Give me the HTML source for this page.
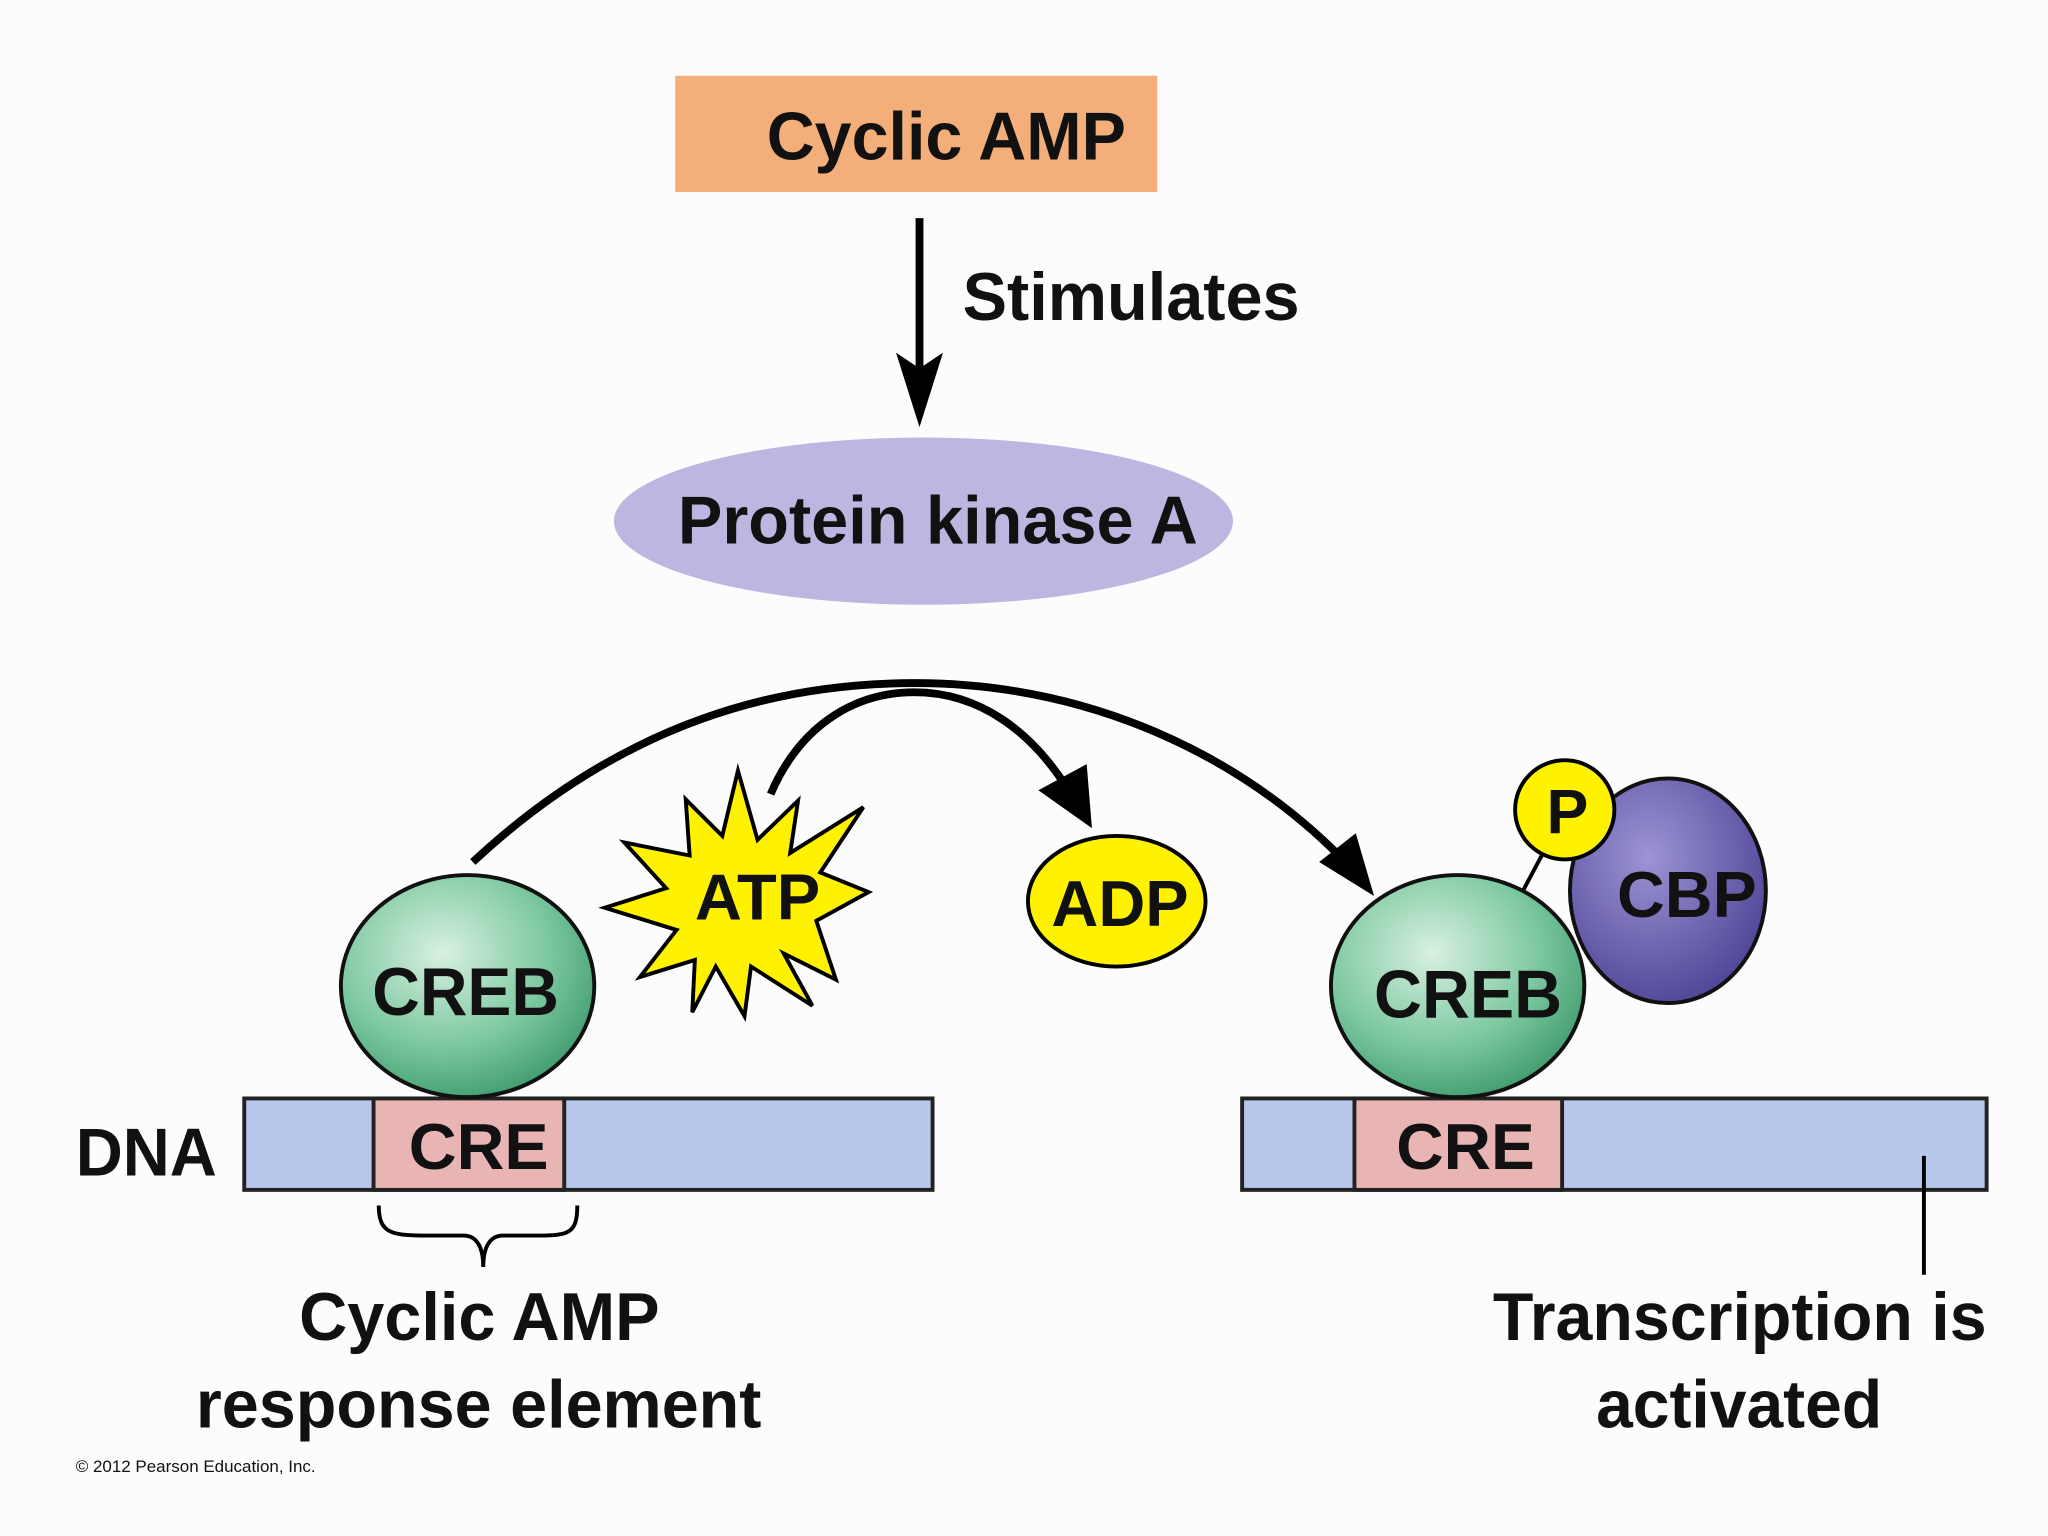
<!DOCTYPE html>
<html><head><meta charset="utf-8"><style>
html,body{margin:0;padding:0;background:#fff;}
svg{display:block;}
text{font-family:"Liberation Sans",sans-serif;font-weight:bold;fill:#111;}
</style></head><body>
<svg width="2048" height="1536" viewBox="0 0 1568 1176" xmlns="http://www.w3.org/2000/svg">
<defs>
<radialGradient id="g" cx="40%" cy="35%" r="70%"><stop offset="0" stop-color="#d8f0e0"/><stop offset="0.6" stop-color="#7cc8a0"/><stop offset="1" stop-color="#3f9a6e"/></radialGradient>
<radialGradient id="pu" cx="40%" cy="35%" r="70%"><stop offset="0" stop-color="#9c94d4"/><stop offset="1" stop-color="#4e4496"/></radialGradient>
</defs>
<rect width="1568" height="1176" fill="#fdfcfd"/>
<rect x="517" y="58" width="369" height="89" fill="#f4ae7a"/>
<text x="587" y="122" font-size="52" textLength="275" lengthAdjust="spacingAndGlyphs">Cyclic AMP</text>
<line x1="704" y1="167" x2="704" y2="290" stroke="#000" stroke-width="6"/>
<polygon points="686,270 704,327 722,270 704,282" fill="#000"/>
<text x="737" y="245" font-size="52" textLength="258" lengthAdjust="spacingAndGlyphs">Stimulates</text>
<ellipse cx="707" cy="399" rx="237" ry="64" fill="#bcb6e0"/>
<text x="519" y="416" font-size="52" textLength="398" lengthAdjust="spacingAndGlyphs">Protein kinase A</text>
<path d="M362,660 C480,550 600,523 700,523 C830,523 950,575 1035,665" fill="none" stroke="#000" stroke-width="6"/>
<polygon points="1010,660 1052,686 1038,638" fill="#000"/>
<path d="M590,608 C615,550 660,530 700,530 C750,530 790,560 818,605" fill="none" stroke="#000" stroke-width="6"/>
<polygon points="795,605 836,634 832,585" fill="#000"/>
<polygon points="565,590 580,643 611,613 605,653 661,618 628,668 665,683 625,705 640,750 600,730 622,770 575,740 570,778 548,740 530,775 532,735 490,748 518,712 463,695 510,680 478,645 528,655 525,612 553,640" fill="#fff200" stroke="#000" stroke-width="3"/>
<text x="532" y="704" font-size="50" textLength="96" lengthAdjust="spacingAndGlyphs">ATP</text>
<ellipse cx="855" cy="690" rx="68" ry="50" fill="#fff200" stroke="#000" stroke-width="3"/>
<text x="805" y="709" font-size="50" textLength="105" lengthAdjust="spacingAndGlyphs">ADP</text>
<rect x="187" y="841" width="527" height="70" fill="#b8c8ec" stroke="#222" stroke-width="3"/>
<rect x="286" y="841" width="146" height="70" fill="#e8b4b4" stroke="#222" stroke-width="3"/>
<ellipse cx="358" cy="755" rx="97" ry="85" fill="url(#g)" stroke="#111" stroke-width="3"/>
<text x="285" y="777" font-size="52" textLength="143" lengthAdjust="spacingAndGlyphs">CREB</text>
<text x="313" y="895" font-size="50" textLength="107" lengthAdjust="spacingAndGlyphs">CRE</text>
<text x="58" y="900" font-size="52" textLength="108" lengthAdjust="spacingAndGlyphs">DNA</text>
<path d="M290,923 C290,945 300,946 330,946 L355,946 C365,946 370,955 370,970 C370,955 375,946 385,946 L410,946 C435,946 442,945 442,923" fill="none" stroke="#000" stroke-width="3"/>
<text x="229" y="1026" font-size="52" textLength="276" lengthAdjust="spacingAndGlyphs">Cyclic AMP</text>
<text x="150" y="1093" font-size="52" textLength="433" lengthAdjust="spacingAndGlyphs">response element</text>
<rect x="951" y="841" width="570" height="70" fill="#b8c8ec" stroke="#222" stroke-width="3"/>
<rect x="1037" y="841" width="159" height="70" fill="#e8b4b4" stroke="#222" stroke-width="3"/>
<ellipse cx="1277" cy="682" rx="75" ry="86" fill="url(#pu)" stroke="#111" stroke-width="3"/>
<text x="1238" y="702" font-size="50" textLength="107" lengthAdjust="spacingAndGlyphs">CBP</text>
<line x1="1166" y1="682" x2="1182" y2="652" stroke="#000" stroke-width="3"/>
<circle cx="1198" cy="620" r="38" fill="#fff200" stroke="#000" stroke-width="3"/>
<text x="1184" y="638" font-size="48" textLength="32" lengthAdjust="spacingAndGlyphs">P</text>
<ellipse cx="1116" cy="755" rx="97" ry="85" fill="url(#g)" stroke="#111" stroke-width="3"/>
<text x="1052" y="779" font-size="52" textLength="144" lengthAdjust="spacingAndGlyphs">CREB</text>
<text x="1069" y="895" font-size="50" textLength="106" lengthAdjust="spacingAndGlyphs">CRE</text>
<line x1="1473" y1="885" x2="1473" y2="976" stroke="#000" stroke-width="3"/>
<text x="1143" y="1026" font-size="52" textLength="378" lengthAdjust="spacingAndGlyphs">Transcription is</text>
<text x="1222" y="1093" font-size="52" textLength="219" lengthAdjust="spacingAndGlyphs">activated</text>
<text x="58" y="1127" font-size="13" style="font-weight:normal" fill="#333">© 2012 Pearson Education, Inc.</text>
</svg>
</body></html>
